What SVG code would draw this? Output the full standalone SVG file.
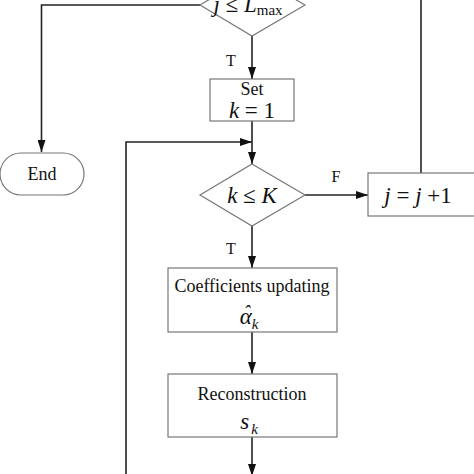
<svg xmlns="http://www.w3.org/2000/svg" width="474" height="474" viewBox="0 0 474 474">
<defs>
<marker id="ah" viewBox="0 0 12 8" refX="12" refY="4" markerWidth="12" markerHeight="8" markerUnits="userSpaceOnUse" orient="auto">
<path d="M0,0 L12,4 L0,8 Z" fill="#111"/>
</marker>
<style>
.box{fill:#fff;stroke:#777;stroke-width:1.2}
.ln{fill:none;stroke:#222;stroke-width:1.6}
text{font-family:'Liberation Serif','Times New Roman',serif;fill:#111;text-anchor:middle}
.t{font-size:18px}
.m{font-size:23px;font-style:italic}
.lb{font-size:16px}
</style>
</defs>
<rect width="474" height="474" fill="#fff"/>
<g id="connectors">
<path class="ln" d="M200,5 H41.5 V152" marker-end="url(#ah)"/>
<path class="ln" d="M252,36 V79" marker-end="url(#ah)"/>
<path class="ln" d="M252,121 V164" marker-end="url(#ah)"/>
<path class="ln" d="M126,474 V142 H252" marker-end="url(#ah)"/>
<path class="ln" d="M305,195 H368" marker-end="url(#ah)"/>
<path class="ln" d="M421,173 V0"/>
<path class="ln" d="M252,226 V268" marker-end="url(#ah)"/>
<path class="ln" d="M252,332 V374" marker-end="url(#ah)"/>
<path class="ln" d="M252,437 V476" marker-end="url(#ah)"/>
<text class="lb" x="231" y="66">T</text>
<text class="lb" x="336" y="182">F</text>
<text class="lb" x="231" y="254">T</text>
</g>
<g id="cond-j">
<polygon class="box" points="252,-26 305,5 252,36 200,5"/>
<text class="m" x="248" y="12">j ≤ L<tspan font-size="15" font-style="normal" dy="3">max</tspan></text>
</g>
<g id="end">
<rect class="box" x="0" y="153" width="84" height="42" rx="21"/>
<text class="t" x="42" y="180">End</text>
</g>
<g id="set-k">
<rect class="box" x="210" y="79" width="84" height="42"/>
<text class="t" x="252" y="95">Set</text>
<text class="m" x="252" y="118">k <tspan font-style="normal">= 1</tspan></text>
</g>
<g id="cond-k">
<polygon class="box" points="252,164 305,195 252,226 200,195"/>
<text class="m" x="252" y="203">k ≤ K</text>
</g>
<g id="inc-j">
<rect class="box" x="368" y="173" width="110" height="43"/>
<text class="m" x="418" y="203">j <tspan font-style="normal">=</tspan> j <tspan font-style="normal">+1</tspan></text>
</g>
<g id="coef">
<rect class="box" x="168" y="268" width="169" height="64"/>
<text class="t" x="252" y="292">Coefficients updating</text>
<text class="m" x="249" y="324">α<tspan font-size="15" dy="5">k</tspan></text>
<text x="247" y="318" font-size="19" font-style="italic">ˆ</text>
</g>
<g id="recon">
<rect class="box" x="168" y="374" width="169" height="63"/>
<text class="t" x="252" y="400">Reconstruction</text>
<text class="m" x="249" y="429">s<tspan font-size="15" dy="5" dx="2">k</tspan></text>
</g>
</svg>
